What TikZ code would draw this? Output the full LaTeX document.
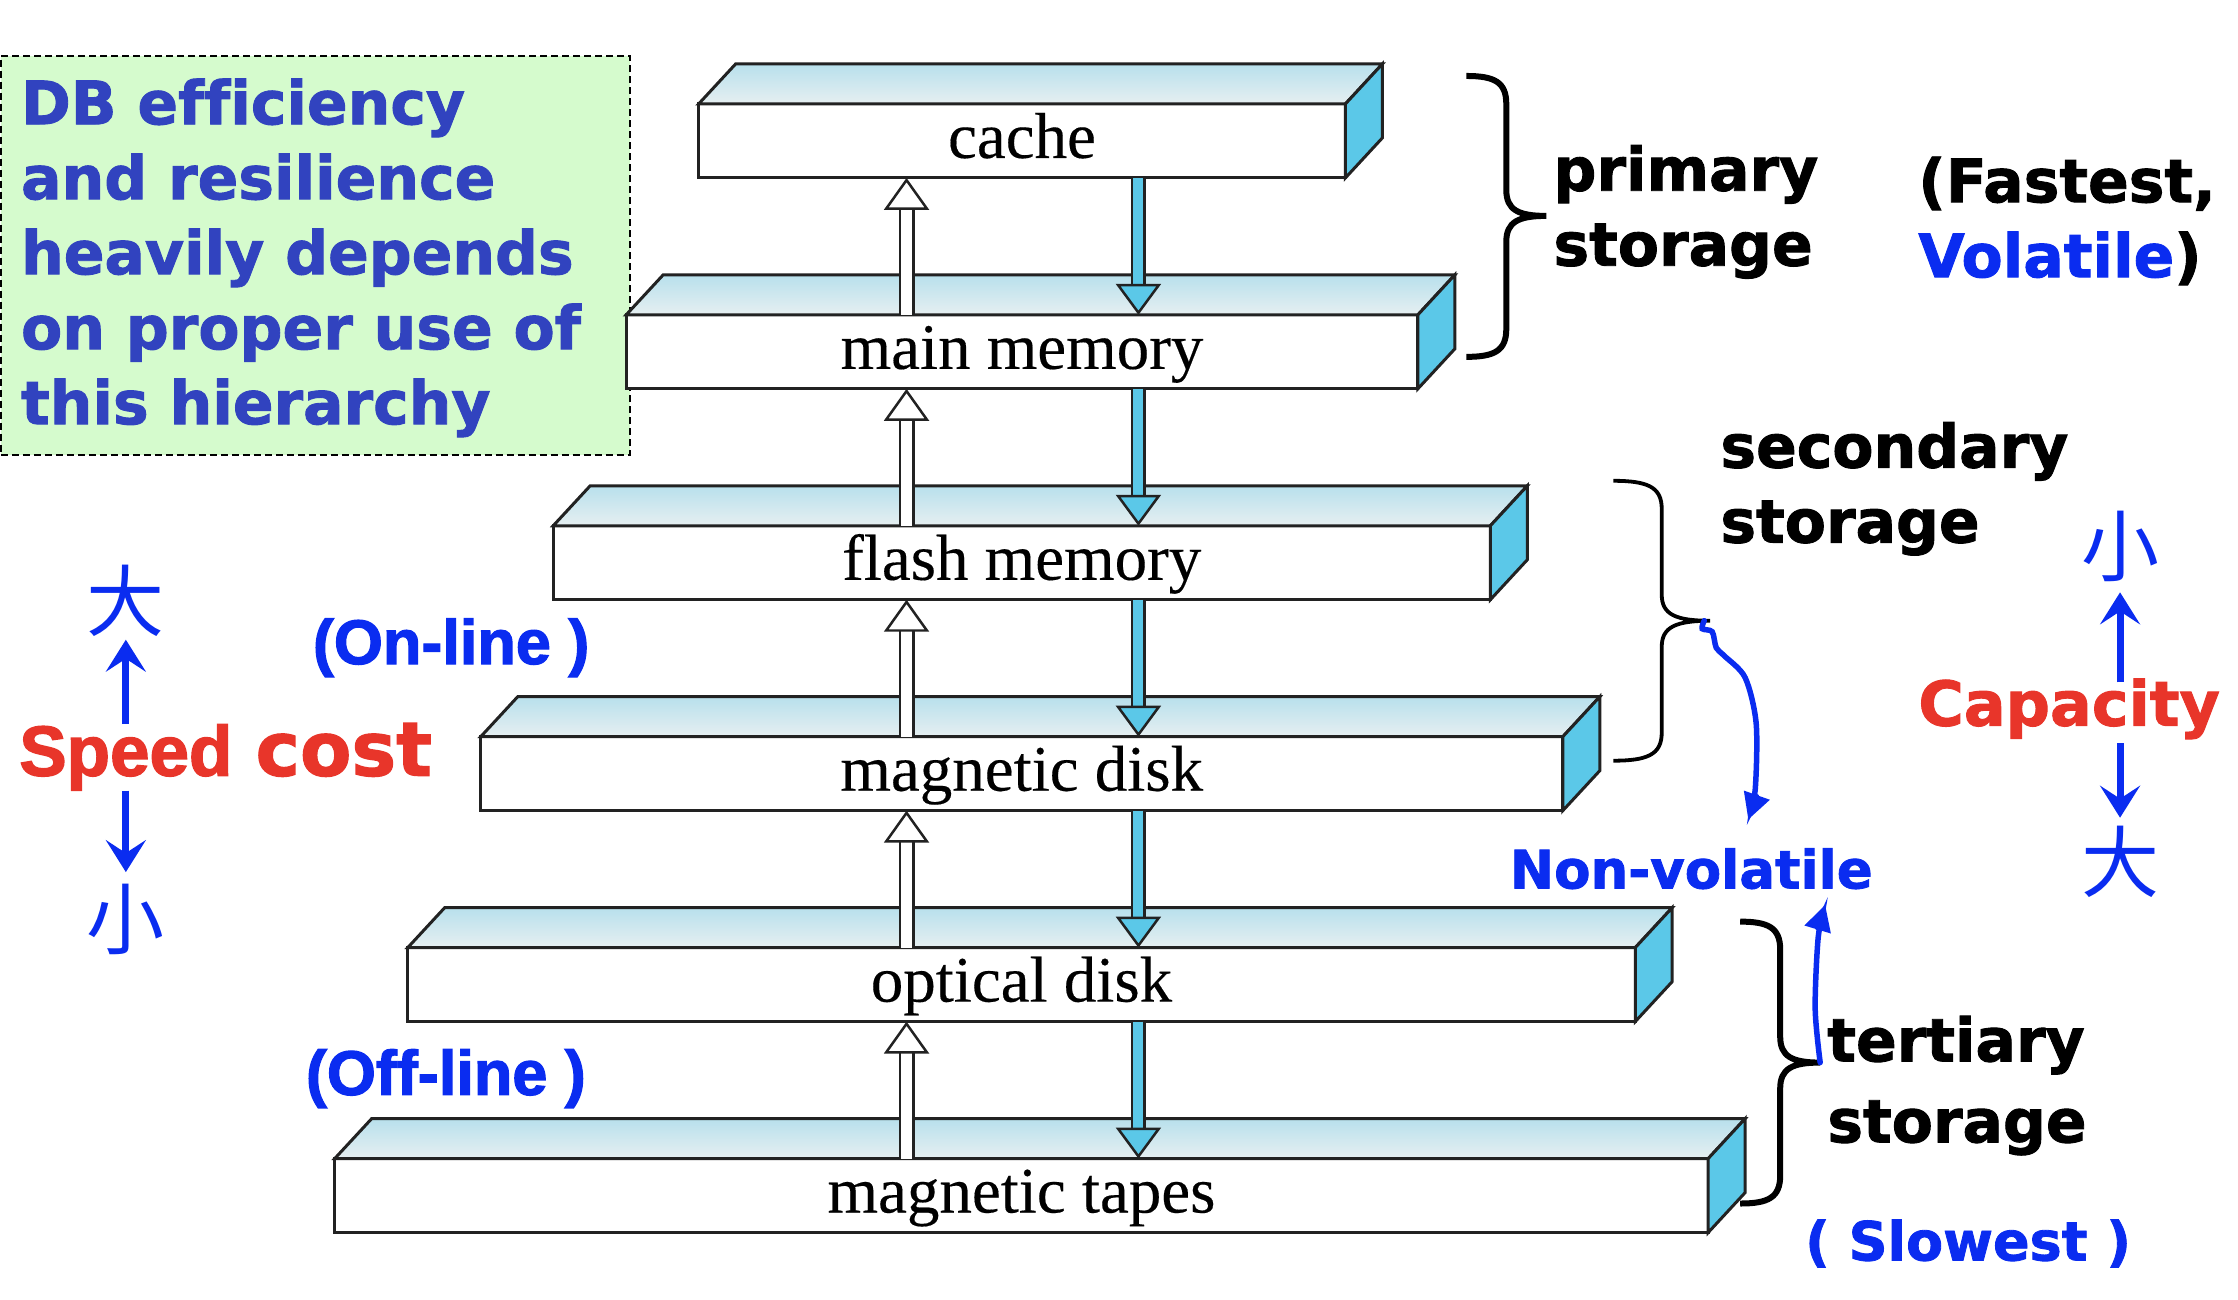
\documentclass[tikz,border=0pt]{standalone}
\usepackage{fontspec}
\setmainfont{Liberation Serif}[FakeBold=0.25]
\newfontfamily\verd{DejaVu Sans}[Ligatures=NoCommon, BoldFeatures={FakeBold=1.5}]
\newfontfamily\aria{Liberation Sans}[BoldFeatures={FakeBold=2}]
\newfontfamily\cjk{Noto Sans CJK SC}
\usetikzlibrary{arrows.meta}
\definecolor{notegreen}{HTML}{D5FBCD}
\definecolor{noteblue}{HTML}{3143BF}
\definecolor{handblue}{HTML}{0A2CF0}
\definecolor{labelred}{HTML}{E8352A}
\definecolor{facetop}{HTML}{B8E0EC}
\definecolor{facelow}{HTML}{E6EFF1}
\definecolor{faceside}{HTML}{5BC8E8}
\definecolor{edge}{HTML}{222222}
\begin{document}
\begin{tikzpicture}[x=1pt, y=-1pt,
      tier/.style = {draw=edge, line width=3pt, fill=white, anchor=north west, minimum height=74pt,
        inner sep=0pt, outer sep=0pt, text height=54pt, text depth=20pt, font=\fontsize{65}{65}\selectfont},
      topface/.style = {draw=edge, line width=3pt, top color=facetop, bottom color=facelow},
      sideface/.style = {draw=edge, line width=3pt, fill=faceside},
      storeup/.style = {draw=edge, line width=2.5pt, double=white, double distance=11pt,
        -{Triangle[length=32pt, width=45pt, fill=white, line width=2.5pt]}},
      storedown/.style = {draw=edge, line width=2.5pt, double=faceside, double distance=10pt,
        -{Triangle[length=31pt, width=45pt, fill=faceside, line width=2.5pt]}},
      note/.style = {draw=black, line width=1.8pt, dash pattern=on 7pt off 4pt, fill=notegreen, anchor=north west,
        minimum width=629pt, minimum height=399pt, inner sep=0pt, outer sep=0pt},
      verd/.style = {inner sep=0pt, align=left, anchor=west, font=\verd\bfseries\fontsize{60}{75}\selectfont},
      blue text/.style = {inner sep=0pt, text=handblue, font=\aria\bfseries\fontsize{63}{63}\selectfont},
      red text/.style = {inner sep=0pt, text=labelred, anchor=base},
      kanji/.style = {inner sep=0pt, text=handblue, font=\cjk\fontsize{78}{78}\selectfont},
      brace/.style = {draw=black, line width=#1},
      hand/.style = {draw=handblue, line width=5.5pt, line cap=round,
        -{Triangle[length=26pt, width=26pt]}},
      level/.style = {draw=handblue, line width=7pt,
        -{Stealth[length=32pt, width=40pt, inset=13pt]}}]
    % note
    \node[note] (note) at (0, 56) {};
    \node[verd, text=noteblue] (noteText) at (20, 258) {DB efficiency\\and resilience\\heavily depends\\on proper use of\\this hierarchy};

    % tiers
    \foreach \n/\l/\r/\t/\s in {cache/698/1345/104/cache, main/625.5/1417.5/315/main memory,
        flash/552.5/1490/526/flash memory, disk/480/1562.5/737/magnetic disk,
        optical/407/1635/948/optical disk, tapes/334/1708/1159/magnetic tapes} {
      \node[tier, minimum width={\r-\l}] (\n) at (\l, \t) {\s};
      \draw[topface] (\n.north west) -- ++(37, -40) -- ([shift={(37, -40)}]\n.north east) -- (\n.north east) -- cycle;
      \draw[sideface] (\n.north east) -- ++(37, -40) -- ++(0, 74) -- (\n.south east) -- cycle;
    }

    % arrows between tiers
    \coordinate (up) at (906, 0);
    \coordinate (down) at (1138, 0);
    \foreach \a/\b in {main/cache, flash/main, disk/flash, optical/disk, tapes/optical} {
      \draw[storeup] (up |- \a.north) -- (up |- \b.south);
      \draw[storedown] (down |- \b.south) -- (down |- \a.north);
    }

    % braces
    \foreach \n/\x/\t/\m/\b/\a/\w in {prim/1466/76/216/357/80/6pt, sec/1613/481/621/761/97/3.8pt, ter/1740/922/1063/1204/80/6pt} {
      \coordinate (\n1) at (\x, \t);
      \coordinate (\n2) at (\x, \b);
      \coordinate (\n Tip) at (\x+\a, \m);
      \draw[brace=\w] (\n1) .. controls (\x+\a*.35, \t) and (\x+\a/2, \t+6) .. (\x+\a/2, \t+28) -- (\x+\a/2, \m-26)
        .. controls (\x+\a/2, \m-6) and (\x+\a*.65, \m) .. (\n Tip)
        .. controls (\x+\a*.65, \m) and (\x+\a/2, \m+6) .. (\x+\a/2, \m+26) -- (\x+\a/2, \b-28)
        .. controls (\x+\a/2, \b-6) and (\x+\a*.35, \b) .. (\n2);
    }

    % storage labels
    \node[verd] (primary) at (1553, 212) {primary\\storage};
    \node[verd] (fastest) at (1918, 221) {(Fastest,\\\textcolor{handblue}{Volatile})};
    \node[verd] (secondary) at (1720, 489) {secondary\\storage};
    \node[verd, font=\verd\bfseries\fontsize{60}{81}\selectfont] (tertiary) at (1827, 1086) {tertiary\\storage};
    \node[blue text, anchor=west] (online) at (312, 648) {(On-line )};
    \node[blue text, anchor=west] (offline) at (305, 1079) {(Off-line )};
    \node[blue text, font=\verd\bfseries\fontsize{53}{53}\selectfont] (nonvol) at (1691, 869) {Non-volatile};
    \node[blue text, font=\verd\bfseries\fontsize{54}{54}\selectfont] (slowest) at (1968, 1244) {( Slowest )};

    % from the braces to non-volatile
    \coordinate (nvIn) at (1748, 820);
    \coordinate (nvOut) at (1825, 905);
    \draw[hand] plot[smooth, tension=.5] coordinates {([xshift=-6pt]secTip) (1702, 629) (1712, 632) (1716, 648) (1724, 656)
      (1745, 678) (1756, 724) (1755, 790) (nvIn)};
    \draw[hand] plot[smooth, tension=.5] coordinates {(terTip) (1815, 1009) (1818, 938) (nvOut)};

    % speed and capacity
    \node[red text, font=\aria\bfseries\fontsize{71}{71}\selectfont] (speed) at (125, 776) {Speed};
    \node[red text, font=\verd\bfseries\fontsize{75}{75}\selectfont] (cost) at (343, 776) {cost};
    \node[red text, font=\verd\bfseries\fontsize{62}{62}\selectfont] (capacity) at (2069, 726) {Capacity};
    \node[kanji] (bigL) at (125, 601) {大};
    \node[kanji] (smallL) at (125, 920) {小};
    \node[kanji] (smallR) at (2120, 547) {小};
    \node[kanji] (bigR) at (2120, 862) {大};
    \draw[level, shorten >=3pt] (speed.north -| bigL.south) -- (bigL.south);
    \draw[level, shorten >=12pt] (speed.south -| smallL.north) -- (smallL.north);
    \draw[level, shorten <=-4pt, shorten >=10pt] (capacity.north -| smallR.south) -- (smallR.south);
    \draw[level, shorten <=4pt, shorten >=8pt] (capacity.south -| bigR.north) -- (bigR.north);
    \useasboundingbox (0, 0) rectangle (2238, 1300);
\end{tikzpicture}
\end{document}
